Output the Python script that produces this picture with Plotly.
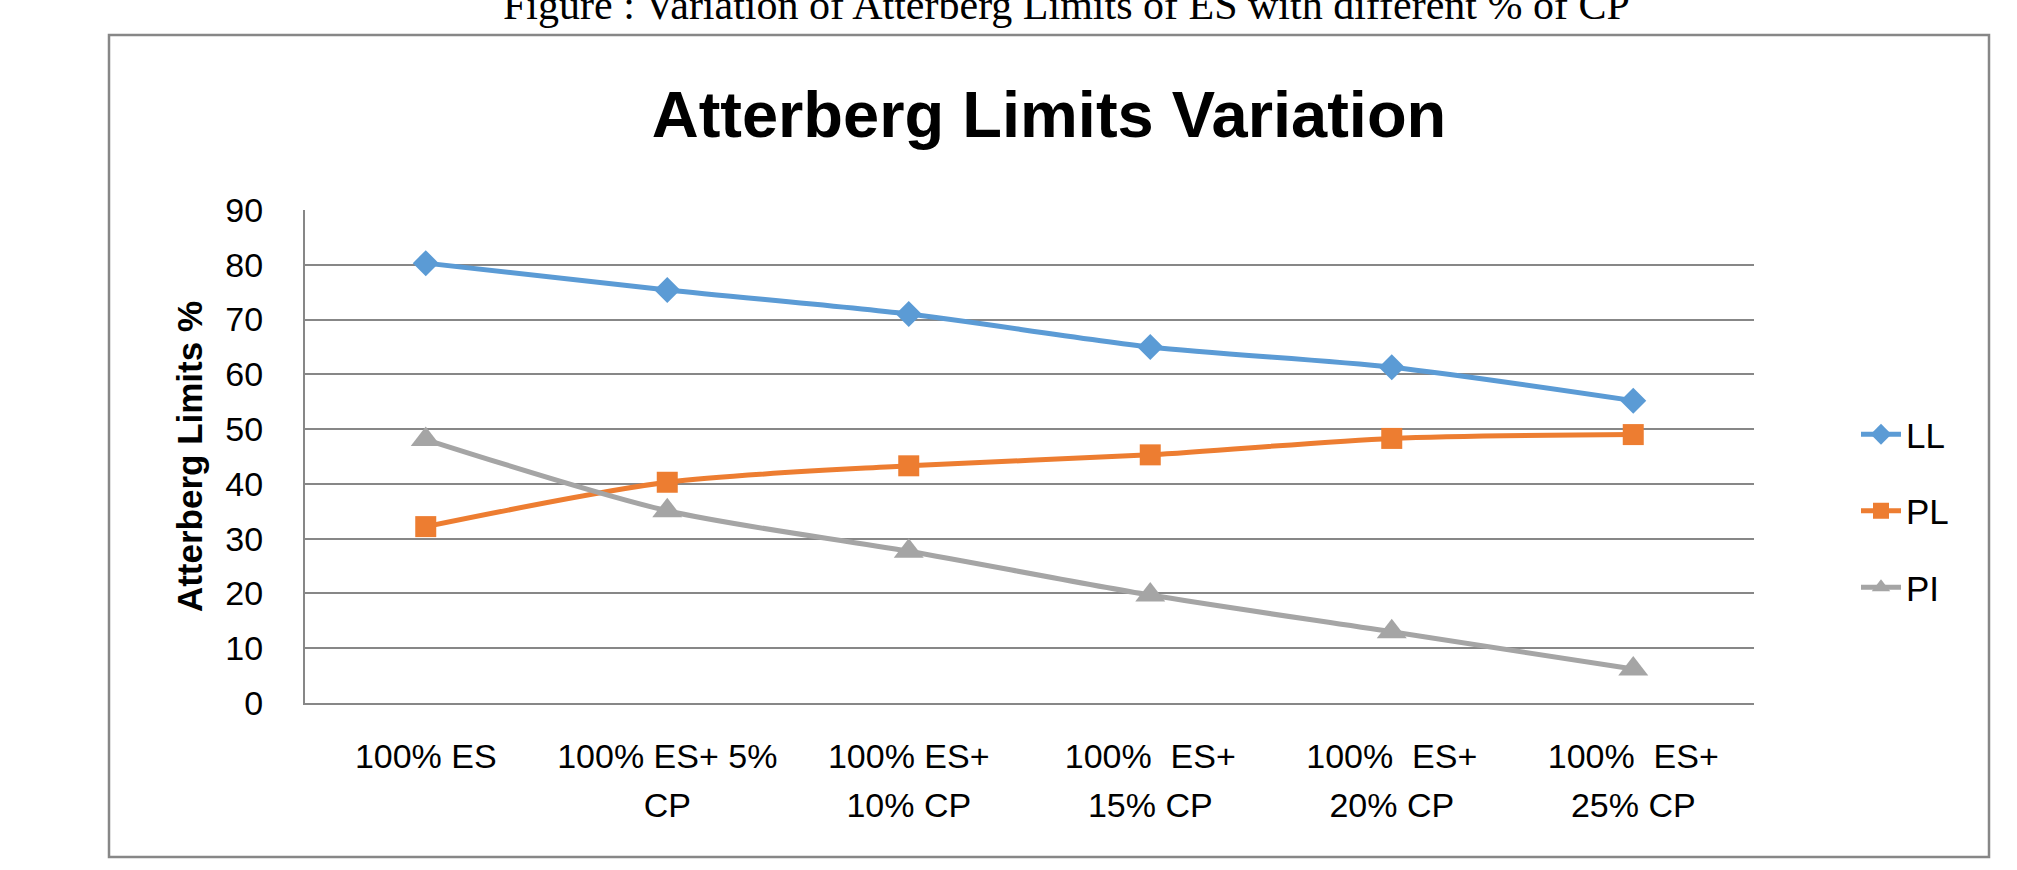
import plotly.graph_objects as go

# ---------------- data ----------------
categories = ["100% ES", "100% ES+ 5% CP", "100% ES+ 10% CP",
              "100% ES+ 15% CP", "100% ES+ 20% CP", "100% ES+ 25% CP"]
label_line1 = ["100% ES", "100% ES+ 5%", "100% ES+",
               "100%&nbsp; ES+", "100%&nbsp; ES+", "100%&nbsp; ES+"]
label_line2 = ["", "CP", "10% CP", "15% CP", "20% CP", "25% CP"]
ll_values = [80.3, 75.4, 71.0, 65.0, 61.3, 55.2]
pl_values = [32.2, 40.3, 43.3, 45.3, 48.3, 49.0]
pi_values = [48.1, 35.1, 27.7, 19.7, 13.0, 6.2]
y_ticks = [0, 10, 20, 30, 40, 50, 60, 70, 80, 90]

# ---------------- layout geometry (pixels) ----------------
W, H = 2017, 870
L, R, T, B = 305, 1754, 210, 703
pw, ph = R - L, B - T


def px(x):
    return (x - L) / pw


def py(y):
    return (B - y) / ph


GRID = "#878787"
FONT = "Liberation Sans, Arial, sans-serif"

fig = go.Figure()

series = [
    ("LL", ll_values, "#5B9BD5", "diamond", 20),
    ("PL", pl_values, "#ED7D31", "square", 21),
    ("PI", pi_values, "#A5A5A5", "triangle-up", 26),
]
for name, vals, col, sym, size in series:
    fig.add_trace(go.Scatter(
        x=categories, y=vals, name=name, mode="lines+markers",
        line=dict(color=col, width=5, shape="spline", smoothing=0.8),
        marker=dict(symbol=sym, size=size, color=col, line=dict(width=0)),
        legendgroup=name,
    ))

# invisible helper trace for the second row of category labels
fig.add_trace(go.Scatter(
    x=categories, y=ll_values, xaxis="x2", mode="markers",
    marker=dict(opacity=0), showlegend=False, hoverinfo="skip",
))

fig.update_layout(
    width=W, height=H,
    margin=dict(l=L, r=W - R, t=T, b=H - B, autoexpand=False),
    paper_bgcolor="white", plot_bgcolor="white",
    font=dict(family=FONT, color="black", size=34),
    title=dict(
        text="<b>Atterberg Limits Variation</b>",
        font=dict(family=FONT, size=65, color="black"),
        x=px(1049), xref="paper", xanchor="center",
        y=1 - 114 / H, yref="container", yanchor="middle",
    ),
    xaxis=dict(
        type="category", categoryorder="array", categoryarray=categories,
        range=[-0.5, len(categories) - 0.5],
        tickmode="array", tickvals=categories, ticktext=label_line1,
        showgrid=False, ticks="", showline=True, linecolor=GRID, linewidth=2,
        tickfont=dict(family=FONT, size=34, color="black"),
        ticklabelstandoff=22, automargin=False, fixedrange=True,
    ),
    xaxis2=dict(
        type="category", categoryorder="array", categoryarray=categories,
        overlaying="x", side="bottom", anchor="y",
        range=[-0.5, len(categories) - 0.5],
        tickmode="array", tickvals=categories, ticktext=label_line2,
        showgrid=False, ticks="", showline=False, zeroline=False,
        tickfont=dict(family=FONT, size=34, color="black"),
        ticklabelstandoff=79, automargin=False, fixedrange=True,
    ),
    yaxis=dict(
        range=[0, 90], tickmode="array", tickvals=y_ticks,
        showgrid=True, gridcolor=GRID, gridwidth=2,
        zeroline=False, showline=True, linecolor=GRID, linewidth=2,
        ticks="", tickfont=dict(family=FONT, size=34, color="black"),
        ticklabelstandoff=33, automargin=False, fixedrange=True,
        title=dict(text="<b>Atterberg Limits %</b>",
                   font=dict(family=FONT, size=35, color="black"),
                   standoff=12),
    ),
    legend=dict(
        x=px(1856), xanchor="left", xref="paper",
        y=py(511), yanchor="middle", yref="paper",
        font=dict(family=FONT, size=35, color="black"),
        tracegroupgap=28, bgcolor="rgba(0,0,0,0)", borderwidth=0,
        itemwidth=40,
    ),
    showlegend=True,
    shapes=[dict(
        type="rect", xref="paper", yref="paper",
        x0=px(109), x1=px(1989), y0=py(857), y1=py(35),
        line=dict(color=GRID, width=2.5), fillcolor="rgba(0,0,0,0)",
        layer="below",
    )],
    annotations=[dict(
        text="Figure : Variation of Atterberg Limits of ES with different % of CP",
        xref="paper", yref="paper", x=px(1066), y=py(-20),
        xanchor="center", yanchor="top", showarrow=False,
        font=dict(family="Liberation Serif, Times New Roman, serif",
                  size=42, color="black"),
    )],
)

fig.write_html(
    "out.html",
    config={"displayModeBar": False},
    post_script="document.body.style.margin='0';document.body.style.padding='0';",
)
